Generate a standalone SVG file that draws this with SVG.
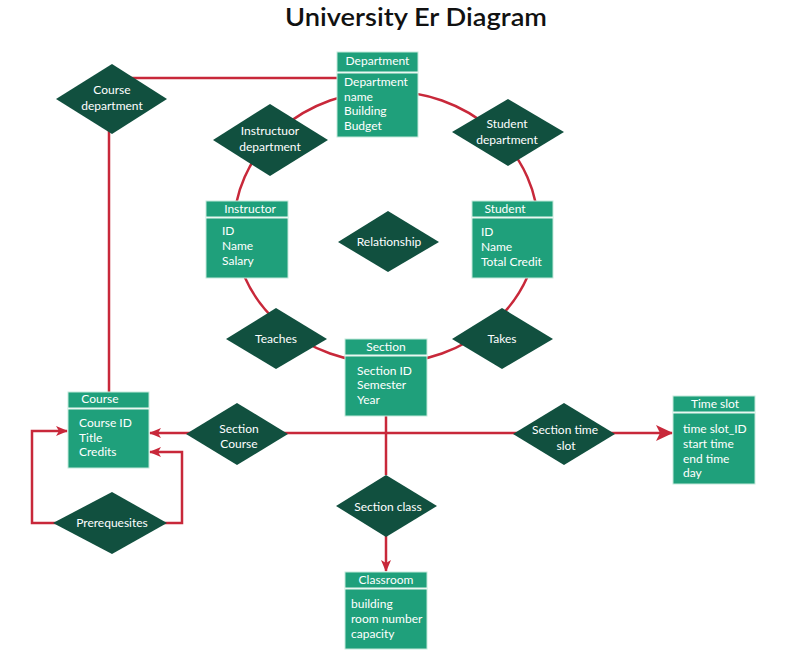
<svg xmlns="http://www.w3.org/2000/svg" width="800" height="661" viewBox="0 0 800 661">
<defs>
<style>
.box{fill:#1fa07b;stroke:#c4e9db;stroke-width:1}
.div{stroke:#e9f7f1;stroke-width:2}
.dia{fill:#11503f}
.t{font-family:"Lato","Open Sans","Liberation Sans",sans-serif;font-size:12px;fill:#ffffff}
.c{text-anchor:middle}
.ln{stroke:#c8283a;stroke-width:2.5;fill:none}
</style>
<marker id="ah" markerUnits="userSpaceOnUse" markerWidth="12" markerHeight="10" refX="11" refY="5" orient="auto">
<path d="M0,0 L12,5 L0,10 L3,5 z" fill="#c8283a"/>
</marker>
<marker id="ahL" markerUnits="userSpaceOnUse" markerWidth="17" markerHeight="17" refX="16" refY="8" orient="auto">
<path d="M0,0 L17,8 L0,16 L4,8 z" fill="#c8283a"/>
</marker>
</defs>
<rect width="800" height="661" fill="#ffffff"/>
<text x="416" y="26" text-anchor="middle" textLength="262" lengthAdjust="spacingAndGlyphs" font-family="Lato,'Open Sans','Liberation Sans',sans-serif" font-size="25" font-weight="600" fill="#111111">University Er Diagram</text>

<g id="connectors">
<ellipse class="ln" cx="386" cy="227" rx="152" ry="136"/>
<line class="ln" x1="112" y1="78" x2="337" y2="78"/>
<line class="ln" x1="109" y1="99" x2="109" y2="392"/>
<path class="ln" d="M564 433 H150" marker-end="url(#ah)"/>
<path class="ln" d="M564 433 H672" marker-end="url(#ahL)"/>
<line class="ln" x1="386" y1="416" x2="386" y2="475"/>
<path class="ln" d="M386 506 V571" marker-end="url(#ah)"/>
<path class="ln" d="M112 523 H32 V431 H67" marker-end="url(#ah)"/>
<path class="ln" d="M112 523 H182 V452 H150" marker-end="url(#ah)"/>
</g>

<g id="department">
<rect class="box" x="337" y="52" width="81" height="85"/>
<line class="div" x1="337" y1="72.5" x2="418" y2="72.5"/>
<text class="t c" x="377.5" y="65">Department</text>
<text class="t" x="344" y="86">Department</text>
<text class="t" x="344" y="101">name</text>
<text class="t" x="344" y="115">Building</text>
<text class="t" x="344" y="130">Budget</text>
</g>

<g id="instructor">
<rect class="box" x="206" y="201" width="82" height="77"/>
<line class="div" x1="206" y1="217.5" x2="288" y2="217.5"/>
<text class="t c" x="250" y="213">Instructor</text>
<text class="t" x="222" y="235">ID</text>
<text class="t" x="222" y="250">Name</text>
<text class="t" x="222" y="265">Salary</text>
</g>

<g id="student">
<rect class="box" x="472" y="201" width="81" height="77"/>
<line class="div" x1="472" y1="217.5" x2="553" y2="217.5"/>
<text class="t c" x="505" y="213">Student</text>
<text class="t" x="481" y="236">ID</text>
<text class="t" x="481" y="251">Name</text>
<text class="t" x="481" y="266">Total Credit</text>
</g>

<g id="section">
<rect class="box" x="345" y="339" width="82" height="77"/>
<line class="div" x1="345" y1="355.5" x2="427" y2="355.5"/>
<text class="t c" x="386" y="351">Section</text>
<text class="t" x="357" y="375">Section ID</text>
<text class="t" x="357" y="389">Semester</text>
<text class="t" x="357" y="404">Year</text>
</g>

<g id="course">
<rect class="box" x="68" y="392" width="81" height="76"/>
<line class="div" x1="68" y1="408.5" x2="149" y2="408.5"/>
<text class="t c" x="100" y="403">Course</text>
<text class="t" x="79" y="427">Course ID</text>
<text class="t" x="79" y="442">Title</text>
<text class="t" x="79" y="456">Credits</text>
</g>

<g id="timeslot">
<rect class="box" x="673" y="396" width="82" height="88"/>
<line class="div" x1="673" y1="412.5" x2="755" y2="412.5"/>
<text class="t c" x="715" y="408">Time slot</text>
<text class="t" x="683" y="433">time slot_ID</text>
<text class="t" x="683" y="448">start time</text>
<text class="t" x="683" y="463">end time</text>
<text class="t" x="683" y="477">day</text>
</g>

<g id="classroom">
<rect class="box" x="345" y="572" width="82" height="77"/>
<line class="div" x1="345" y1="588.5" x2="427" y2="588.5"/>
<text class="t c" x="386" y="584">Classroom</text>
<text class="t" x="351" y="608">building</text>
<text class="t" x="351" y="623">room number</text>
<text class="t" x="351" y="638">capacity</text>
</g>

<g id="course-department">
<polygon class="dia" points="112,64 167,99 112,134 56,99"/>
<text class="t c" x="112" y="94">Course</text>
<text class="t c" x="112" y="110">department</text>
</g>

<g id="instructuor-department">
<polygon class="dia" points="270,104 328,140 270,176 213,140"/>
<text class="t c" x="270" y="135">Instructuor</text>
<text class="t c" x="270" y="151">department</text>
</g>

<g id="student-department">
<polygon class="dia" points="508,99 564,132 508,166 452,132"/>
<text class="t c" x="507" y="128">Student</text>
<text class="t c" x="507" y="144">department</text>
</g>

<g id="relationship">
<polygon class="dia" points="388,211 439,242 388,272 338,242"/>
<text class="t c" x="389" y="246">Relationship</text>
</g>

<g id="teaches">
<polygon class="dia" points="276,308 327,339 276,369 226,339"/>
<text class="t c" x="276" y="343">Teaches</text>
</g>

<g id="takes">
<polygon class="dia" points="502,308 553,339 502,369 452,339"/>
<text class="t c" x="502" y="343">Takes</text>
</g>

<g id="section-course">
<polygon class="dia" points="237,403 288,434 237,465 186,434"/>
<text class="t c" x="239" y="433">Section</text>
<text class="t c" x="239" y="448">Course</text>
</g>

<g id="section-time-slot">
<polygon class="dia" points="564,403 615,434 564,465 513,434"/>
<text class="t c" x="565" y="434">Section time</text>
<text class="t c" x="566" y="450">slot</text>
</g>

<g id="section-class">
<polygon class="dia" points="386,475 437,506 386,537 336,506"/>
<text class="t c" x="388" y="511">Section class</text>
</g>

<g id="prerequesites">
<polygon class="dia" points="112,492 167,523 112,554 53,523"/>
<text class="t c" x="112" y="527">Prerequesites</text>
</g>
</svg>
